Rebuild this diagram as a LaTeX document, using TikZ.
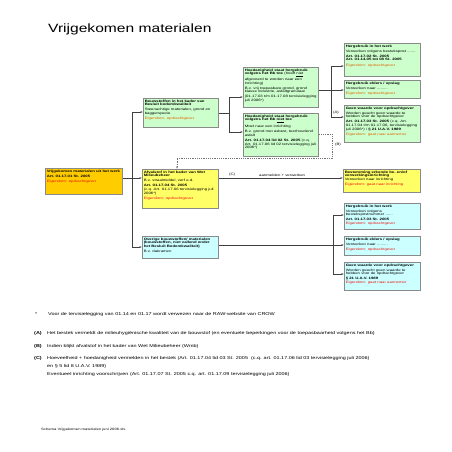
\documentclass[tikz,border=0pt]{standalone}
\usepackage{fontspec}
\setmainfont{Liberation Sans}[FakeStretch=1.3]
\usetikzlibrary{arrows.meta}
\definecolor{grn}{HTML}{CCFFCC}
\definecolor{cyn}{HTML}{CCFFFF}
\definecolor{ylw}{HTML}{FFFF66}
\definecolor{orn}{HTML}{FFCC00}
\definecolor{eig}{HTML}{E06000}
\definecolor{eigr}{HTML}{F01010}
\definecolor{brd}{HTML}{8A8A8A}
\newcommand\bxfont{\fontsize{3.3}{3.75}\selectfont}
\newcommand\bxtxt[3]{\parbox[t][#2][t]{#1}{\raggedright\bxfont #3}}
\newcommand\pgap{\\[1.3pt]}
\begin{document}
\begin{tikzpicture}[x=1pt,y=-1pt,
  bx/.style={draw=brd, line width=0.5pt, inner sep=1.5pt, anchor=north west},
  ln/.style={draw=black!75, line width=0.5pt},
  arr/.style={draw=black!75, line width=0.5pt, -{Latex[length=2.4pt,width=1.8pt]}},
  dsh/.style={draw=black!55, line width=0.5pt, dash pattern=on 1.2pt off 1pt, -{Latex[length=2.4pt,width=1.8pt]}},
  lbl/.style={inner sep=0pt, font=\bxfont, anchor=west},
  note/.style={inner sep=0pt, font=\fontsize{4.2}{5}\selectfont, anchor=base west}]
\useasboundingbox (0,0) rectangle (452,452);
\fill[white] (0,0) rectangle (452,452);

\node[inner sep=0pt, anchor=base west, font=\fontsize{12}{14}\selectfont] (title) at (48,33) {Vrijgekomen materialen};

% left column
\node[bx, fill=orn] (OR) at (45,168) {\bxtxt{74pt}{23pt}{\textbf{Vrijgekomen materialen uit het werk}\pgap
  \textbf{Art. 01.17.01 St. 2005}\pgap
  \textcolor{eigr}{Eigendom: opdrachtgever}}};

% middle column
\node[bx, fill=grn] (BW) at (143,98) {\bxtxt{72pt}{26pt}{\textbf{Bouwstoffen in het kader van Besluit bodemkwaliteit}\pgap
  Steenachtige materialen, grond en baggerspecie\pgap
  \textcolor{eig}{Eigendom: opdrachtgever}}};
\node[bx, fill=ylw] (AV) at (142,169) {\bxtxt{73pt}{36pt}{\textbf{Afvalstof in het kader van Wet Milieubeheer}\pgap
  B.v. straalmiddel, verf e.d.\pgap
  \textbf{Art. 01.17.04 St. 2005}\\
  (c.q. Art. 01.17.06 tervisielegging juli 2006*)\pgap
  \textcolor{eigr}{Eigendom: opdrachtgever}}};
\node[bx, fill=cyn] (OV) at (142,236) {\bxtxt{73pt}{19pt}{\textbf{Overige bouwstoffen/ materialen (bouwstoffen, niet vallend onder het Besluit Bodemkwaliteit)}\pgap
  B.v. dakramen}};

% hoedanigheid column
\node[bx, fill=grn] (H1) at (243,67) {\bxtxt{72pt}{37pt}{\textbf{Hoedanigheid staat hergebruik volgens het Bb toe} (hoeft \underline{niet} afgevoerd te worden naar een inrichting)\pgap
  B.v. vrij toepasbare grond, grond klasse industrie, asfaltgranulaat\pgap
  (01.17.03 t/m 01.17.08 tervisielegging juli 2006*)}};
\node[bx, fill=grn] (H2) at (243,113) {\bxtxt{72pt}{40pt}{\textbf{Hoedanigheid staat hergebruik volgens het Bb \underline{niet} toe}\pgap
  Moet naar een inrichting\pgap
  B.v. grond met asbest, teerhoudend asfalt\pgap
  \textbf{Art. 01.17.04 lid 02 St. 2005} (c.q. Art. 01.17.06 lid 02 tervisielegging juli 2006*)}};

% right column green
\node[bx, fill=grn] (G1) at (344,43) {\bxtxt{73pt}{30pt}{\textbf{Hergebruik in het werk}\pgap
  Verwerken volgens bestekspost .......\pgap
  \textbf{Art. 01.17.02 St. 2005}\\
  \textbf{Art. 01.14.05 tot 08 St. 2005}\pgap
  \textcolor{eig}{Eigendom: opdrachtgever}}};
\node[bx, fill=grn] (G2) at (344,80) {\bxtxt{73pt}{15pt}{\textbf{Hergebruik elders / opslag}\pgap
  Verwerken naar .........\pgap
  \textcolor{eig}{Eigendom: opdrachtgever}}};
\node[bx, fill=grn] (G3) at (344,105) {\bxtxt{73pt}{34pt}{\textbf{Geen waarde voor opdrachtgever}\pgap
  Worden geacht geen waarde te hebben voor de opdrachtgever\pgap
  \textbf{Art. 01.17.03 St. 2005} (c.q. Art. 01.17.04 t/m 01.17.06, tervisielegging juli 2006*) / \textbf{§ 21 U.A.V. 1989}\pgap
  \textcolor{eig}{Eigendom: gaat naar aannemer}}};

% right column yellow
\node[bx, fill=ylw] (BE) at (343,169) {\bxtxt{74pt}{20pt}{\textbf{Bestemming erkende be- en/of verwerkingsinrichting}\\
  Verwerken naar inrichting\pgap
  \textcolor{eigr}{Eigendom: gaat naar inrichting}}};

% right column cyan
\node[bx, fill=cyn] (C1) at (344,203) {\bxtxt{73pt}{23pt}{\textbf{Hergebruik in het werk}\pgap
  Verwerken volgens bestekspostnummer ......\pgap
  \textbf{Art. 01.17.03 St. 2005}\\
  \textcolor{eigr}{Eigendom: opdrachtgever}}};
\node[bx, fill=cyn] (C2) at (344,236) {\bxtxt{73pt}{16pt}{\textbf{Hergebruik elders / opslag}\pgap
  Verwerken naar .........\pgap
  \textcolor{eigr}{Eigendom: opdrachtgever}}};
\node[bx, fill=cyn] (C3) at (344,262) {\bxtxt{73pt}{25pt}{\textbf{Geen waarde voor opdrachtgever}\pgap
  Worden geacht geen waarde te hebben voor de opdrachtgever\pgap
  \textbf{§ 21 U.A.V. 1989}\\
  \textcolor{eigr}{Eigendom: gaat naar aannemer}}};

% junction coordinates
\coordinate (jt) at (132,112);
\coordinate (jm) at (132,178);
\coordinate (jb) at (132,247);
\coordinate (kt) at (229,97);
\coordinate (km) at (229,113);
\coordinate (kb) at (229,132);
\coordinate (mt) at (331,66);
\coordinate (mm) at (331,90);
\coordinate (mb) at (331,117);
\coordinate (nt) at (333,215);
\coordinate (nm) at (333,245);
\coordinate (nb) at (333,274);
\coordinate (d1) at (332,134);
\coordinate (d2) at (332,158);
\coordinate (d3) at (177,158);
\coordinate (c1) at (280,178);

% orange tree
\draw[ln] (OR.east|-jm) -- (jm);
\draw[ln] (jt) -- (jb);
\draw[arr] (jt) -- (BW.west|-jt);
\draw[arr] (jm) -- (AV.west|-jm);
\draw[arr] (jb) -- (OV.west|-jb);

% bouwstoffen tree
\draw[ln] (BW.east|-km) -- (km);
\draw[ln] (kt) -- (kb);
\draw[arr] (kt) -- (H1.west|-kt);
\draw[arr] (kb) -- (H2.west|-kb);

% hoedanigheid tree
\draw[ln] (H1.east|-mm) -- (mm);
\draw[ln] (mt) -- (mb);
\draw[arr] (mt) -- (G1.west|-mt);
\draw[arr] (mm) -- (G2.west|-mm);
\draw[arr] (mb) -- (G3.west|-mb);

% dashed (B)
\draw[dsh] (H2.east|-d1) -- (d1) -- (d2) -- (d3) -- (d3|-AV.north);

% afvalstof
\draw[arr] (AV.east|-c1) -- (BE.west|-c1);

% overige tree
\draw[ln] (OV.east|-nm) -- (nm);
\draw[ln] (nt) -- (nb);
\draw[arr] (nt) -- (C1.west|-nt);
\draw[arr] (nm) -- (C2.west|-nm);
\draw[arr] (nb) -- (C3.west|-nb);

% labels
\node[lbl] (LA) at (333,112.5) {(A)};
\node[lbl] (LB) at (335,145) {(B)};
\node[lbl] (LC) at (229,175) {(C)};
\node[lbl] (LAV) at (259,175) {aanmelden + verwerken};

% notes
\node[note] (n0s) at (35,315.5) {*};
\node[note] (n0) at (48,315.5) {Voor de tervisielegging van 01.14 en 01.17 wordt verwezen naar de RAW-website van CROW};
\node[note] (nAl) at (34,334) {\textbf{(A)}};
\node[note] (nA) at (47,334) {Het bestek vermeldt de milieuhygiënische kwaliteit van de bouwstof (en eventuele beperkingen voor de toepasbaarheid volgens het Bb)};
\node[note] (nBl) at (34,347) {\textbf{(B)}};
\node[note] (nB) at (47,347) {Indien blijkt afvalstof in het kader van Wet Milieubeheer (Wmb)};
\node[note] (nCl) at (34,359) {\textbf{(C)}};
\node[note] (nC1) at (47,359) {Hoeveelheid + hoedanigheid vermelden in het bestek (Art. 01.17.04 lid 03 St. 2005\ \ (c.q. art. 01.17.06 lid 03 tervisielegging juli 2006)};
\node[note] (nC2) at (47,367) {en § 5 lid 8 U.A.V. 1989)};
\node[note] (nC3) at (47,375) {Eventueel inrichting voorschrijven (Art. 01.17.07 St. 2005 c.q. art. 01.17.09 tervisielegging juli 2006)};

\node[inner sep=0pt, anchor=base west, font=\fontsize{3.2}{4}\selectfont] (foot) at (41,430) {Schema Vrijgekomen materialen juni 2006.xls};
\end{tikzpicture}
\end{document}
